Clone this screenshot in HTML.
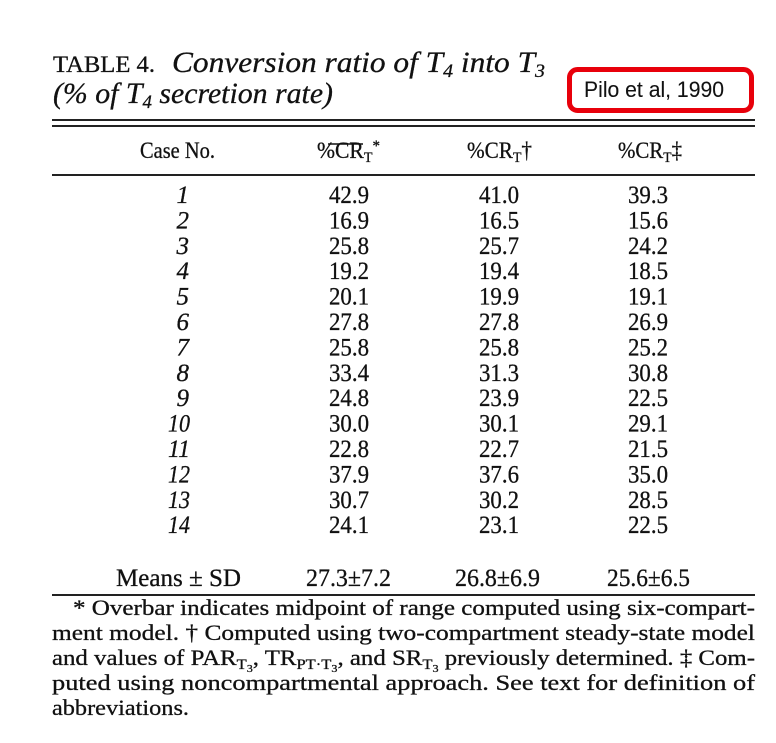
<!DOCTYPE html>
<html>
<head>
<meta charset="utf-8">
<style>
  html, body { margin: 0; padding: 0; background: #fff; }
  body { width: 776px; height: 743px; overflow: hidden; }
  svg { display: block; }
  text { font-family: "Liberation Serif", serif; fill: #111; stroke: #111; stroke-width: 0.3; }
  .sans { font-family: "Liberation Sans", sans-serif; stroke-width: 0.1; }
</style>
</head>
<body>
<svg width="776" height="743" viewBox="0 0 776 743" xmlns="http://www.w3.org/2000/svg">
  <rect x="0" y="0" width="776" height="743" fill="#fff"/>

  <!-- Title -->
  <text x="53" y="72" font-size="23" textLength="102" lengthAdjust="spacingAndGlyphs">TABLE 4.</text>
  <text x="172" y="72" font-size="30" font-style="italic" textLength="373" lengthAdjust="spacingAndGlyphs">Conversion ratio of T<tspan dy="5" font-size="19">4</tspan><tspan dy="-5"> into T</tspan><tspan dy="5" font-size="19">3</tspan></text>
  <text x="53" y="103" font-size="30" font-style="italic" textLength="280" lengthAdjust="spacingAndGlyphs">(% of T<tspan dy="5" font-size="19">4</tspan><tspan dy="-5"> secretion rate)</tspan></text>

  <!-- Red label box -->
  <rect x="571.5" y="71.5" width="182" height="41" rx="8" ry="8" fill="#999" opacity="0.35"/>
  <rect x="569.5" y="69.5" width="182" height="41" rx="8" ry="8" fill="#fff" stroke="#e8000b" stroke-width="5"/>
  <text class="sans" x="584" y="97" font-size="22.5" textLength="140" lengthAdjust="spacingAndGlyphs">Pilo et al, 1990</text>

  <!-- Rules -->
  <rect x="52" y="119" width="703" height="2" fill="#222"/>
  <rect x="52" y="125" width="703" height="2" fill="#222"/>
  <rect x="52" y="174" width="703" height="2" fill="#222"/>
  <rect x="52" y="594" width="703" height="2" fill="#222"/>

  <!-- Header -->
  <text x="140" y="158" font-size="23" textLength="75" lengthAdjust="spacingAndGlyphs">Case No.</text>
  <text x="317" y="158" font-size="23" textLength="63" lengthAdjust="spacingAndGlyphs">%CR<tspan dy="4" font-size="15">T</tspan><tspan dy="-11" font-size="16">*</tspan></text>
  <line x1="328" y1="144" x2="363" y2="144" stroke="#111" stroke-width="1.6"/>
  <text x="467" y="158" font-size="23" textLength="65" lengthAdjust="spacingAndGlyphs">%CR<tspan dy="4" font-size="15">T</tspan><tspan dy="-4">†</tspan></text>
  <text x="618" y="158" font-size="23" textLength="64" lengthAdjust="spacingAndGlyphs">%CR<tspan dy="4" font-size="15">T</tspan><tspan dy="-4">‡</tspan></text>

  <!-- Case numbers -->
  <g font-size="25" font-style="italic" text-anchor="end">
    <text x="189" y="203">1</text>
    <text x="189" y="228.4">2</text>
    <text x="189" y="253.8">3</text>
    <text x="189" y="279.2">4</text>
    <text x="189" y="304.6">5</text>
    <text x="189" y="330">6</text>
    <text x="189" y="355.4">7</text>
    <text x="189" y="380.8">8</text>
    <text x="189" y="406.2">9</text>
  </g>
  <g font-size="25" font-style="italic">
    <text x="168" y="431.6" textLength="22" lengthAdjust="spacingAndGlyphs">10</text>
    <text x="168" y="457" textLength="22" lengthAdjust="spacingAndGlyphs">11</text>
    <text x="168" y="482.4" textLength="22" lengthAdjust="spacingAndGlyphs">12</text>
    <text x="168" y="507.8" textLength="22" lengthAdjust="spacingAndGlyphs">13</text>
    <text x="168" y="533.2" textLength="22" lengthAdjust="spacingAndGlyphs">14</text>
  </g>

  <!-- Column 1 -->
  <g font-size="25">
    <text x="329" y="203" textLength="40" lengthAdjust="spacingAndGlyphs">42.9</text>
    <text x="329" y="228.4" textLength="40" lengthAdjust="spacingAndGlyphs">16.9</text>
    <text x="329" y="253.8" textLength="40" lengthAdjust="spacingAndGlyphs">25.8</text>
    <text x="329" y="279.2" textLength="40" lengthAdjust="spacingAndGlyphs">19.2</text>
    <text x="329" y="304.6" textLength="40" lengthAdjust="spacingAndGlyphs">20.1</text>
    <text x="329" y="330" textLength="40" lengthAdjust="spacingAndGlyphs">27.8</text>
    <text x="329" y="355.4" textLength="40" lengthAdjust="spacingAndGlyphs">25.8</text>
    <text x="329" y="380.8" textLength="40" lengthAdjust="spacingAndGlyphs">33.4</text>
    <text x="329" y="406.2" textLength="40" lengthAdjust="spacingAndGlyphs">24.8</text>
    <text x="329" y="431.6" textLength="40" lengthAdjust="spacingAndGlyphs">30.0</text>
    <text x="329" y="457" textLength="40" lengthAdjust="spacingAndGlyphs">22.8</text>
    <text x="329" y="482.4" textLength="40" lengthAdjust="spacingAndGlyphs">37.9</text>
    <text x="329" y="507.8" textLength="40" lengthAdjust="spacingAndGlyphs">30.7</text>
    <text x="329" y="533.2" textLength="40" lengthAdjust="spacingAndGlyphs">24.1</text>
  </g>
  <!-- Column 2 -->
  <g font-size="25">
    <text x="479" y="203" textLength="40" lengthAdjust="spacingAndGlyphs">41.0</text>
    <text x="479" y="228.4" textLength="40" lengthAdjust="spacingAndGlyphs">16.5</text>
    <text x="479" y="253.8" textLength="40" lengthAdjust="spacingAndGlyphs">25.7</text>
    <text x="479" y="279.2" textLength="40" lengthAdjust="spacingAndGlyphs">19.4</text>
    <text x="479" y="304.6" textLength="40" lengthAdjust="spacingAndGlyphs">19.9</text>
    <text x="479" y="330" textLength="40" lengthAdjust="spacingAndGlyphs">27.8</text>
    <text x="479" y="355.4" textLength="40" lengthAdjust="spacingAndGlyphs">25.8</text>
    <text x="479" y="380.8" textLength="40" lengthAdjust="spacingAndGlyphs">31.3</text>
    <text x="479" y="406.2" textLength="40" lengthAdjust="spacingAndGlyphs">23.9</text>
    <text x="479" y="431.6" textLength="40" lengthAdjust="spacingAndGlyphs">30.1</text>
    <text x="479" y="457" textLength="40" lengthAdjust="spacingAndGlyphs">22.7</text>
    <text x="479" y="482.4" textLength="40" lengthAdjust="spacingAndGlyphs">37.6</text>
    <text x="479" y="507.8" textLength="40" lengthAdjust="spacingAndGlyphs">30.2</text>
    <text x="479" y="533.2" textLength="40" lengthAdjust="spacingAndGlyphs">23.1</text>
  </g>
  <!-- Column 3 -->
  <g font-size="25">
    <text x="628" y="203" textLength="40" lengthAdjust="spacingAndGlyphs">39.3</text>
    <text x="628" y="228.4" textLength="40" lengthAdjust="spacingAndGlyphs">15.6</text>
    <text x="628" y="253.8" textLength="40" lengthAdjust="spacingAndGlyphs">24.2</text>
    <text x="628" y="279.2" textLength="40" lengthAdjust="spacingAndGlyphs">18.5</text>
    <text x="628" y="304.6" textLength="40" lengthAdjust="spacingAndGlyphs">19.1</text>
    <text x="628" y="330" textLength="40" lengthAdjust="spacingAndGlyphs">26.9</text>
    <text x="628" y="355.4" textLength="40" lengthAdjust="spacingAndGlyphs">25.2</text>
    <text x="628" y="380.8" textLength="40" lengthAdjust="spacingAndGlyphs">30.8</text>
    <text x="628" y="406.2" textLength="40" lengthAdjust="spacingAndGlyphs">22.5</text>
    <text x="628" y="431.6" textLength="40" lengthAdjust="spacingAndGlyphs">29.1</text>
    <text x="628" y="457" textLength="40" lengthAdjust="spacingAndGlyphs">21.5</text>
    <text x="628" y="482.4" textLength="40" lengthAdjust="spacingAndGlyphs">35.0</text>
    <text x="628" y="507.8" textLength="40" lengthAdjust="spacingAndGlyphs">28.5</text>
    <text x="628" y="533.2" textLength="40" lengthAdjust="spacingAndGlyphs">22.5</text>
  </g>

  <!-- Means row -->
  <text x="116" y="586" font-size="25" textLength="125" lengthAdjust="spacingAndGlyphs">Means ± SD</text>
  <text x="306" y="586" font-size="25" textLength="85" lengthAdjust="spacingAndGlyphs">27.3±7.2</text>
  <text x="455" y="586" font-size="25" textLength="85" lengthAdjust="spacingAndGlyphs">26.8±6.9</text>
  <text x="607" y="586" font-size="25" textLength="83" lengthAdjust="spacingAndGlyphs">25.6±6.5</text>

  <!-- Footnote -->
  <g font-size="22.5">
    <text x="73" y="615" textLength="682" lengthAdjust="spacingAndGlyphs">* Overbar indicates midpoint of range computed using six-compart-</text>
    <text x="52" y="640" textLength="703" lengthAdjust="spacingAndGlyphs">ment model. † Computed using two-compartment steady-state model</text>
    <text x="52" y="665" textLength="703" lengthAdjust="spacingAndGlyphs">and values of PAR<tspan dy="4" font-size="15">T</tspan><tspan dy="3" font-size="11">3</tspan><tspan dy="-7">, TR</tspan><tspan dy="4" font-size="15">PT·T</tspan><tspan dy="3" font-size="11">3</tspan><tspan dy="-7">, and SR</tspan><tspan dy="4" font-size="15">T</tspan><tspan dy="3" font-size="11">3</tspan><tspan dy="-7"> previously determined. ‡ Com-</tspan></text>
    <text x="52" y="690" textLength="703" lengthAdjust="spacingAndGlyphs">puted using noncompartmental approach. See text for definition of</text>
    <text x="52" y="715" textLength="137" lengthAdjust="spacingAndGlyphs">abbreviations.</text>
  </g>
</svg>
</body>
</html>
